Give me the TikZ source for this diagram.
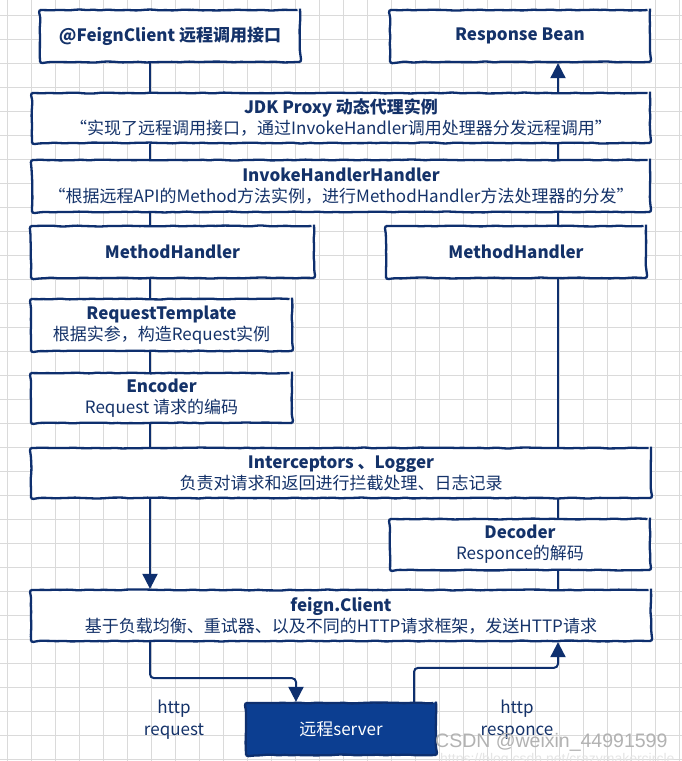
\documentclass[tikz,border=0pt]{standalone}
\usepackage{fontspec}
\setmainfont{Noto Sans CJK SC}
\newfontfamily\wmfont{Liberation Sans}
\usetikzlibrary{arrows.meta,decorations.pathmorphing}
\definecolor{bline}{RGB}{14,47,110}
\definecolor{btext}{RGB}{20,50,105}
\definecolor{srvfill}{RGB}{12,62,145}
\definecolor{gridc}{RGB}{218,218,218}
\tikzset{
  sketch/.style={decorate, decoration={random steps, segment length=6pt, amplitude=0.5pt}, rounded corners=2.5pt},
  box/.style={draw=bline, line width=2.3pt, fill=white, sketch, text=btext, align=center, inner sep=0pt, font=\fontsize{17}{21}\selectfont},
  srvbox/.style={box, fill=srvfill, text=white},
  conn/.style={draw=bline, line width=2pt},
  arr/.style={conn, -{Triangle[width=15pt,length=15pt]}},
  lbl/.style={text=btext, align=center, inner sep=0pt, font=\fontsize{17}{22}\selectfont},
  wm/.style={text=black!30, inner sep=0pt, anchor=west, font=\wmfont\fontsize{19.5}{20}\selectfont},
}
\begin{document}
\pgfmathsetseed{7}
\begin{tikzpicture}[x=1pt,y=-1pt]
\useasboundingbox (0,0) rectangle (682,761);
\fill[white] (0,0) rectangle (682,761);
\foreach \i in {0,...,28} \draw[gridc, line width=1pt] (7.3+24*\i,0) -- (7.3+24*\i,761);
\foreach \j in {0,...,31} \draw[gridc, line width=1pt] (0,15.3+24*\j) -- (682,15.3+24*\j);

\coordinate (L) at (150,0);
\coordinate (R) at (558,0);
\coordinate (Q) at (296,0);
\coordinate (P) at (414,0);

\node[box, minimum width=260pt, minimum height=52pt] (fc) at (170,36) {\textbf{@FeignClient 远程调用接口}};
\node[box, minimum width=260pt, minimum height=52pt] (rb) at (520,36) {\textbf{Response Bean}};
\node[box, minimum width=618pt, minimum height=50pt] (jdk) at (341,118) {\textbf{JDK Proxy 动态代理实例}\\“实现了远程调用接口，通过InvokeHandler调用处理器分发远程调用”};
\node[box, minimum width=618pt, minimum height=52pt] (ih) at (341,186) {\textbf{InvokeHandlerHandler}\\“根据远程API的Method方法实例，进行MethodHandler方法处理器的分发”};
\node[box, minimum width=283pt, minimum height=52pt] (mhl) at (172.5,252) {\textbf{MethodHandler}};
\node[box, minimum width=260pt, minimum height=52pt] (mhr) at (516,252) {\textbf{MethodHandler}};
\node[box, minimum width=261pt, minimum height=52pt] (rt) at (161.5,325) {\textbf{RequestTemplate}\\根据实参，构造Request实例};
\node[box, minimum width=261pt, minimum height=50pt] (enc) at (161.5,398) {\textbf{Encoder}\\Request 请求的编码};
\node[box, minimum width=620pt, minimum height=50pt] (ic) at (341,473) {\textbf{Interceptors 、Logger}\\负责对请求和返回进行拦截处理、日志记录};
\node[box, minimum width=260pt, minimum height=51pt] (dec) at (520,544.5) {\textbf{Decoder}\\Responce的解码};
\node[box, minimum width=620pt, minimum height=51pt] (fcl) at (341,615.5) {\textbf{feign.Client}\\基于负载均衡、重试器、以及不同的HTTP请求框架，发送HTTP请求};
\node[srvbox, minimum width=190pt, minimum height=52pt] (srv) at (341,729) {远程server};

\draw[conn] (fc.south -| L) -- (jdk.north -| L);
\draw[conn] (jdk.south -| L) -- (ih.north -| L);
\draw[conn] (jdk.south -| R) -- (ih.north -| R);
\draw[arr] (jdk.north -| R) -- (rb.south -| R);
\draw[conn] (ih.south -| L) -- (mhl.north -| L);
\draw[conn] (ih.south -| R) -- (mhr.north -| R);
\draw[conn] (mhl.south -| L) -- (rt.north -| L);
\draw[conn] (rt.south -| L) -- (enc.north -| L);
\draw[conn] (enc.south -| L) -- (ic.north -| L);
\draw[conn] (mhr.south -| R) -- (ic.north -| R);
\draw[arr] (ic.south -| L) -- (fcl.north -| L);
\draw[conn] (ic.south -| R) -- (dec.north -| R);
\draw[conn] (dec.south -| R) -- (fcl.north -| R);
\draw[arr, rounded corners=4pt] (fcl.south -| L) -- ++(0,36) -| (srv.north -| Q);
\draw[arr, rounded corners=4pt] (srv.north -| P) -- ++(0,-34) -| (fcl.south -| R);

\node[lbl] (hreq) at (174,720) {http\\request};
\node[lbl] (hresp) at (517,720) {http\\responce};

\node[wm] (wmark) at (435,742) {CSDN @weixin\_44991599};
\node[wm, text=black!10, font=\wmfont\fontsize{14}{16}\selectfont] (wurl) at (440,760) {https://blog.csdn.net/crazymakercircle};
\end{tikzpicture}
\end{document}
